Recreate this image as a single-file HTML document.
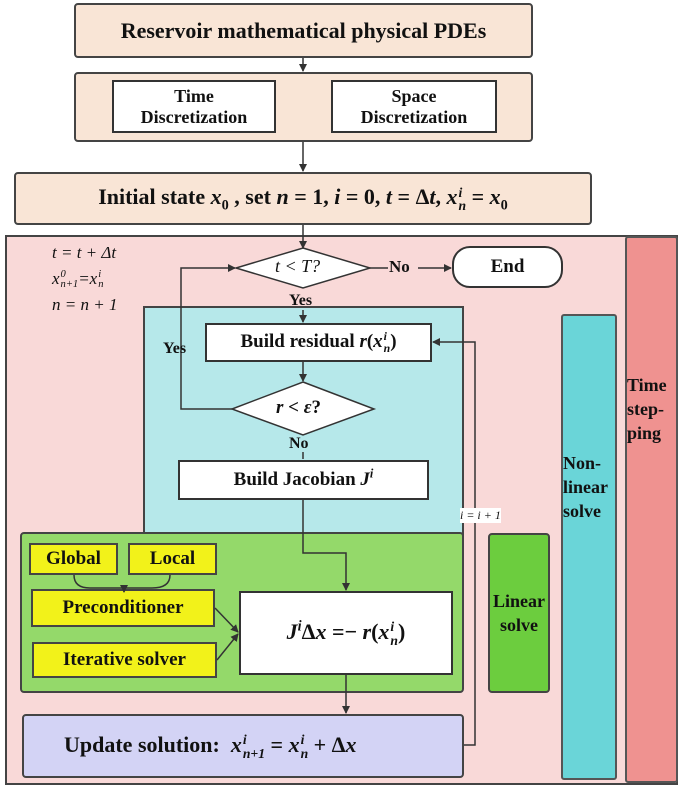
<!DOCTYPE html>
<html><head><meta charset="utf-8"><style>
body{margin:0;width:685px;height:795px;background:#fff;position:relative;overflow:hidden;font-family:"Liberation Serif",serif;font-weight:bold;color:#111}
.b{position:absolute;box-sizing:border-box;display:flex;align-items:center;justify-content:center;text-align:center}
i{font-style:italic}
sub,sup{font-size:65%;line-height:0}
.ss{display:inline-block;vertical-align:middle;font-size:62%;line-height:1;text-align:left;font-style:italic;margin-left:1px}
.ss span{display:block}
</style></head><body>
<div class="b" style="left:74px;top:3px;width:459px;height:55px;background:#f9e5d6;border:2px solid #444;border-radius:4px;font-size:22px"><span>Reservoir mathematical physical PDEs</span></div>
<div class="b" style="left:74px;top:72px;width:459px;height:70px;background:#f9e5d6;border:2px solid #444;border-radius:4px"></div>
<div class="b" style="left:112px;top:80px;width:164px;height:53px;background:#fff;border:2px solid #333;font-size:18px;line-height:21px"><span>Time<br>Discretization</span></div>
<div class="b" style="left:331px;top:80px;width:166px;height:53px;background:#fff;border:2px solid #333;font-size:18px;line-height:21px"><span>Space<br>Discretization</span></div>
<div class="b" style="left:14px;top:172px;width:578px;height:53px;background:#f9e5d6;border:2px solid #444;border-radius:4px;font-size:22px"><span>Initial state <i>x</i><sub>0</sub> , set <i>n</i> = 1, <i>i</i> = 0, <i>t</i> = Δ<i>t</i>, <i>x</i><span class="ss"><span>i</span><span>n</span></span> = <i>x</i><sub>0</sub></span></div>
<div class="b" style="left:5px;top:235px;width:673px;height:550px;background:#f9d9d8;border:2px solid #444"></div>
<div class="b" style="left:625px;top:236px;width:53px;height:547px;background:#ef9290;border:2px solid #555;border-radius:3px;align-items:flex-start;justify-content:flex-start;padding-top:135px;font-size:18px;line-height:24px;text-align:left"><span>Time<br>step-<br>ping</span></div>
<div class="b" style="left:561px;top:314px;width:56px;height:466px;background:#6ad5d8;border:2px solid #555;border-radius:3px;align-items:flex-start;justify-content:flex-start;padding-top:135px;font-size:18px;line-height:24px;text-align:left"><span>Non-<br>linear<br>solve</span></div>
<div class="b" style="left:143px;top:306px;width:321px;height:240px;background:#b6e8ea;border:2px solid #444"></div>
<div class="b" style="left:20px;top:532px;width:444px;height:161px;background:#94d96a;border:2px solid #444;border-radius:4px"></div>
<div class="b" style="left:488px;top:533px;width:62px;height:160px;background:#6ccd3e;border:2px solid #444;border-radius:4px;font-size:18px;line-height:24px"><span>Linear<br>solve</span></div>
<div class="b" style="left:205px;top:323px;width:227px;height:39px;background:#fff;border:2px solid #333;font-size:19px"><span>Build residual <i>r</i>(<i>x</i><span class="ss"><span>i</span><span>n</span></span>)</span></div>
<div class="b" style="left:178px;top:460px;width:251px;height:40px;background:#fff;border:2px solid #333;font-size:19px"><span>Build Jacobian <i>J</i><sup><i>i</i></sup></span></div>
<div class="b" style="left:29px;top:543px;width:89px;height:32px;background:#f2f21a;border:2px solid #444;font-size:19px"><span>Global</span></div>
<div class="b" style="left:128px;top:543px;width:89px;height:32px;background:#f2f21a;border:2px solid #444;font-size:19px"><span>Local</span></div>
<div class="b" style="left:31px;top:589px;width:184px;height:38px;background:#f2f21a;border:2px solid #444;font-size:19px"><span>Preconditioner</span></div>
<div class="b" style="left:32px;top:642px;width:185px;height:36px;background:#f2f21a;border:2px solid #444;font-size:19px"><span>Iterative solver</span></div>
<div class="b" style="left:239px;top:591px;width:214px;height:84px;background:#fff;border:2px solid #333;font-size:22px"><span><i>J</i><sup><i>i</i></sup>Δ<i>x</i> =− <i>r</i>(<i>x</i><span class="ss"><span>i</span><span>n</span></span>)</span></div>
<div class="b" style="left:22px;top:714px;width:442px;height:64px;background:#d3d3f5;border:2px solid #444;border-radius:4px;font-size:22px;justify-content:flex-start;padding-left:40px"><span>Update solution:&nbsp; <i>x</i><span class="ss"><span>i</span><span>n+1</span></span> = <i>x</i><span class="ss"><span>i</span><span>n</span></span> + Δ<i>x</i></span></div>
<div class="b" style="left:452px;top:246px;width:111px;height:42px;background:#fff;border:2px solid #333;border-radius:18px;font-size:19px"><span>End</span></div>
<svg width="685" height="795" style="position:absolute;left:0;top:0">
<defs><marker id="a" markerWidth="8" markerHeight="8" refX="7" refY="4" orient="auto" markerUnits="userSpaceOnUse"><path d="M0,0L8,4L0,8z" fill="#333"/></marker></defs>
<g stroke="#333" stroke-width="1.5" fill="none">
<line x1="303" y1="58" x2="303" y2="71" marker-end="url(#a)"/>
<line x1="303" y1="142" x2="303" y2="171" marker-end="url(#a)"/>
<line x1="303" y1="225" x2="303" y2="248" marker-end="url(#a)"/>
<polygon points="303,248 370,268 303,288 236,268" fill="#fff"/>
<line x1="370" y1="268" x2="388" y2="268"/>
<line x1="418" y1="268" x2="451" y2="268" marker-end="url(#a)"/>
<line x1="303" y1="310" x2="303" y2="322" marker-end="url(#a)"/>
<line x1="303" y1="362" x2="303" y2="381" marker-end="url(#a)"/>
<polygon points="303,382 374,409 303,435 232,409" fill="#fff"/>
<polyline points="232,409 181,409 181,268 235,268" marker-end="url(#a)"/>
<line x1="303" y1="452" x2="303" y2="459"/>
<polyline points="303,500 303,553 346,553 346,590" marker-end="url(#a)"/>
<polyline points="464,745 475,745 475,342 433,342" marker-end="url(#a)"/>
<line x1="346" y1="675" x2="346" y2="713" marker-end="url(#a)"/>
<line x1="215" y1="608" x2="238" y2="632" marker-end="url(#a)"/>
<line x1="217" y1="660" x2="238" y2="634" marker-end="url(#a)"/>
<path d="M74,575 Q74,588 90,588 L152,588 Q170,588 170,575"/>
<line x1="124" y1="586" x2="124" y2="592" marker-end="url(#a)"/>
</g>
</svg>
<div style="position:absolute;left:275px;top:256px;font-size:18px;font-weight:normal;font-style:italic">t &lt; T?</div>
<div style="position:absolute;left:389px;top:257px;font-size:17px">No</div>
<div style="position:absolute;left:289px;top:292px;font-size:16px">Yes</div>
<div style="position:absolute;left:163px;top:340px;font-size:16px">Yes</div>
<div style="position:absolute;left:276px;top:397px;font-size:19px"><i>r</i> &lt; <i>ε</i>?</div>
<div style="position:absolute;left:289px;top:435px;font-size:16px">No</div>
<div style="position:absolute;left:460px;top:508px;font-size:12px;font-weight:normal;font-style:italic;background:#fff">i = i + 1</div>
<div style="position:absolute;left:52px;top:240px;font-size:17px;font-weight:normal;line-height:26px;font-style:italic">t = t + Δt<br>x<span class="ss"><span>0</span><span>n+1</span></span>=x<span class="ss"><span>i</span><span>n</span></span><br>n = n + 1</div>
</body></html>
